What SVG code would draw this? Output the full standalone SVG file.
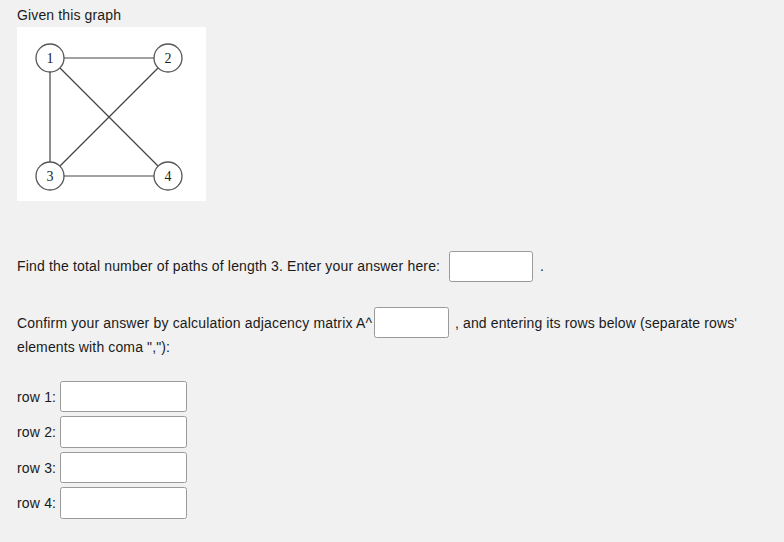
<svg xmlns="http://www.w3.org/2000/svg" width="784" height="542" viewBox="0 0 784 542">
<style>
text{font-family:"Liberation Sans",Arial,sans-serif;font-size:14px;fill:#1a1a1a}
.in{fill:#fff;stroke:#9a9a9a;stroke-width:1}
.node circle{fill:#fff;stroke:#555;stroke-width:1.3}
.node text{font-family:"Liberation Serif","Times New Roman",serif;font-size:14px;fill:#222;text-anchor:middle}
.edge{stroke:#444;stroke-width:1.2;fill:none}
</style>
<rect width="784" height="542" fill="#f1f1f1"/>
<text x="17" y="20" textLength="104" lengthAdjust="spacing">Given this graph</text>
<rect x="17" y="27" width="189" height="174" fill="#fff"/>
<g id="edges">
<line class="edge" x1="50" y1="58" x2="168" y2="58"/>
<line class="edge" x1="50" y1="58" x2="50" y2="176"/>
<line class="edge" x1="50" y1="58" x2="168" y2="176"/>
<line class="edge" x1="168" y1="58" x2="50" y2="176"/>
<line class="edge" x1="50" y1="176" x2="168" y2="176"/>
</g>
<g id="n1" class="node"><circle cx="50" cy="58" r="14"/><text x="50" y="63">1</text></g>
<g id="n2" class="node"><circle cx="168" cy="58" r="14"/><text x="168" y="63">2</text></g>
<g id="n3" class="node"><circle cx="50" cy="176" r="14"/><text x="50" y="181">3</text></g>
<g id="n4" class="node"><circle cx="168" cy="176" r="14"/><text x="168" y="181">4</text></g>
<text x="17" y="271" textLength="423" lengthAdjust="spacing">Find the total number of paths of length 3. Enter your answer here:</text>
<rect class="in" x="449.5" y="251.5" width="83" height="30" rx="2"/>
<text x="540" y="271">.</text>
<text x="17" y="328" textLength="355" lengthAdjust="spacing">Confirm your answer by calculation adjacency matrix A^</text>
<rect class="in" x="374.5" y="307.5" width="74" height="30" rx="2"/>
<text x="455" y="328" textLength="282" lengthAdjust="spacing">, and entering its rows below (separate rows'</text>
<text x="17" y="352" textLength="153" lengthAdjust="spacing">elements with coma ","):</text>
<text x="17" y="402" textLength="39" lengthAdjust="spacing">row 1:</text>
<rect class="in" x="60.5" y="381.5" width="126" height="30" rx="2"/>
<text x="17" y="437" textLength="39" lengthAdjust="spacing">row 2:</text>
<rect class="in" x="60.5" y="416.5" width="126" height="31" rx="2"/>
<text x="17" y="473" textLength="39" lengthAdjust="spacing">row 3:</text>
<rect class="in" x="60.5" y="452.5" width="126" height="30" rx="2"/>
<text x="17" y="508" textLength="39" lengthAdjust="spacing">row 4:</text>
<rect class="in" x="60.5" y="487.5" width="126" height="31" rx="2"/>
</svg>
